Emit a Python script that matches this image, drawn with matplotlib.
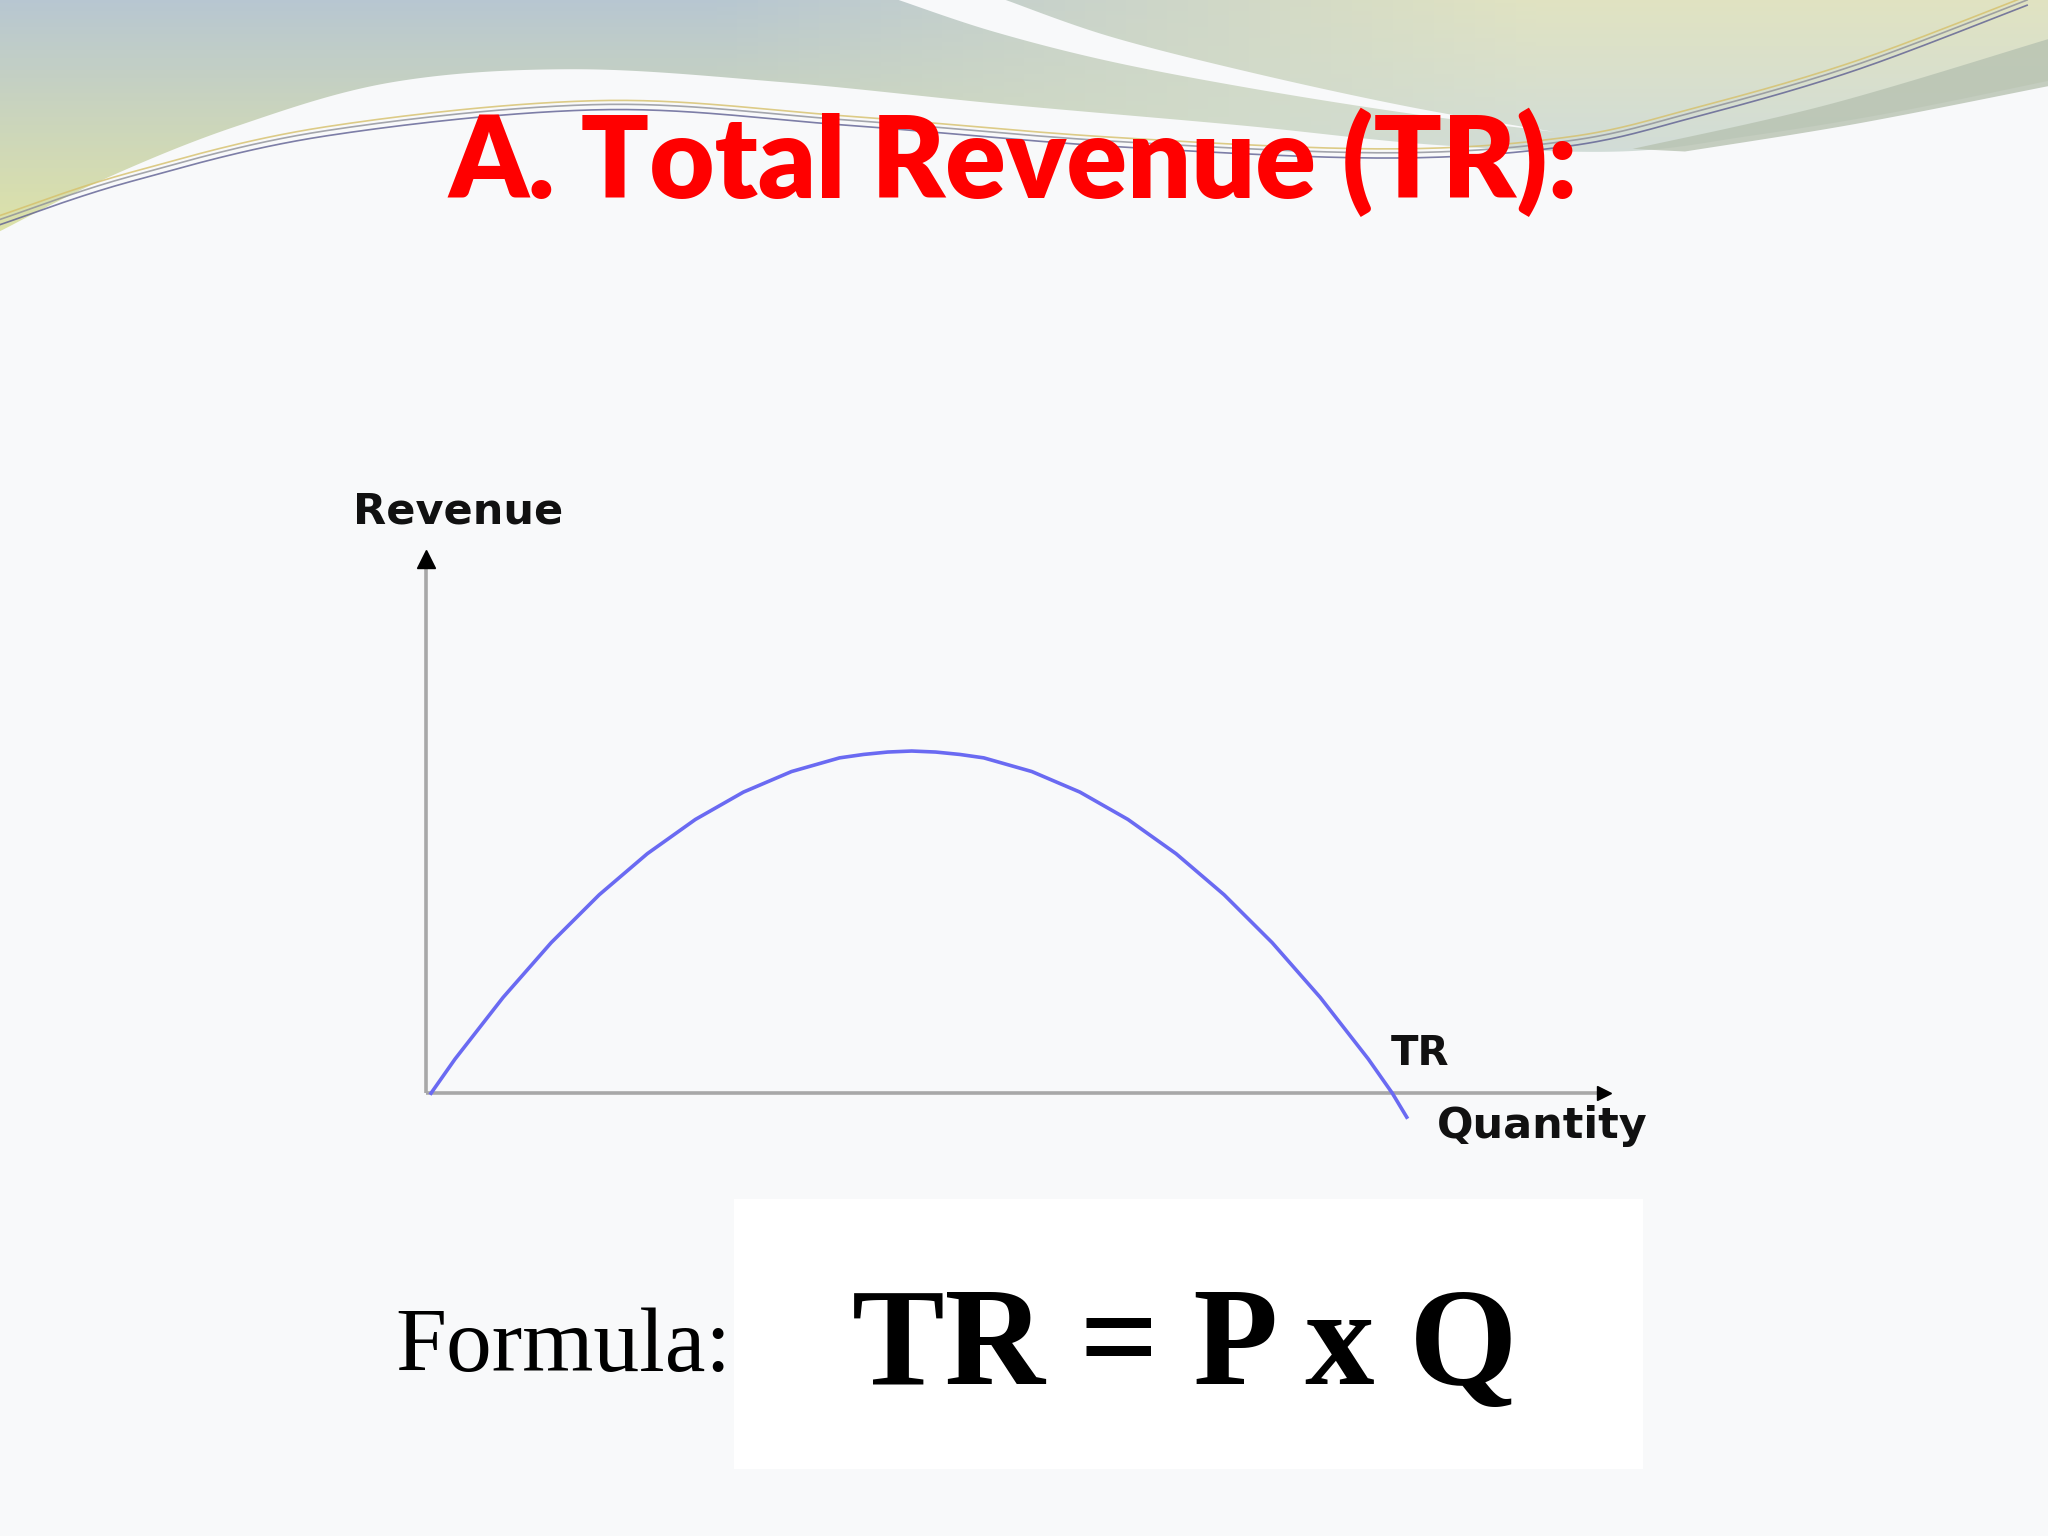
import numpy as np
import matplotlib
matplotlib.use("Agg")
import matplotlib.pyplot as plt
from matplotlib.patches import Polygon, Rectangle

# Total revenue curve (quantity units, revenue units)
quantity = [0, 0.5, 1, 1.5, 2, 2.5, 3, 3.5, 4, 4.5, 5, 5.5, 6, 6.5, 7, 7.5, 8, 8.5, 9, 9.5,
            10, 10.5, 11, 11.5, 12, 12.5, 13, 13.5, 14, 14.5, 15, 15.5, 16, 16.5, 17, 17.5,
            18, 18.5, 19, 19.5, 20, 20.3]
revenue = [0, 10, 19, 28, 36, 44, 51, 58, 64, 70, 75, 80, 84, 88, 91, 94, 96, 98, 99, 99.7,
           100, 99.7, 99, 98, 96, 94, 91, 88, 84, 80, 75, 70, 64, 58, 51, 44,
           36, 28, 19, 10, 0, -7]

title_text = "A. Total Revenue (TR):"
y_label = "Revenue"
x_label = "Quantity"
curve_label = "TR"
formula_label = "Formula:"
formula_text = "TR = P x Q"


def smooth(pts, n=30):
    # Catmull-Rom through the given outline points (decoration only)
    pts = np.asarray(pts, float)
    p = np.vstack([pts[0], pts, pts[-1]])
    out = []
    t = np.linspace(0, 1, n, endpoint=False)[:, None]
    for i in range(1, len(p) - 2):
        p0, p1, p2, p3 = p[i - 1], p[i], p[i + 1], p[i + 2]
        out.append(0.5 * ((2 * p1) + (-p0 + p2) * t + (2 * p0 - 5 * p1 + 4 * p2 - p3) * t ** 2
                          + (-p0 + 3 * p1 - 3 * p2 + p3) * t ** 3))
    out.append(pts[-1:])
    return np.vstack(out)


fig = plt.figure(figsize=(20.48, 15.36), dpi=100)
fig.patch.set_facecolor("#f8f9fa")

# background layer in slide pixel units
bg = fig.add_axes([0, 0, 1, 1])
bg.set_xlim(0, 1568)
bg.set_ylim(1176, 0)
bg.axis("off")

# coloured header mass with a gradient
lower = smooth([(1568, 62), (1450, 86), (1340, 104), (1240, 116), (1100, 111), (950, 96),
                (770, 80), (600, 63), (440, 53), (300, 63), (180, 97), (80, 137), (0, 177)])
outline = np.vstack([[(0, 0), (1568, 0)], lower])
grad = np.zeros((60, 100, 3))
yy = np.linspace(0, 1, 60)[:, None]
xx = np.linspace(0, 1, 100)[None, :]
top_l = np.array([0.72, 0.78, 0.82])
bot_l = np.array([0.87, 0.89, 0.66])
top_r = np.array([0.88, 0.89, 0.76])
bot_r = np.array([0.79, 0.85, 0.89])
for c in range(3):
    left = top_l[c] + (bot_l[c] - top_l[c]) * yy
    right = top_r[c] + (bot_r[c] - top_r[c]) * yy
    w = np.clip((xx - 0.35) / 0.4, 0, 1)
    grad[:, :, c] = left * (1 - w) + right * w
im = bg.imshow(grad, extent=(0, 1568, 180, 0), aspect="auto", zorder=1)
clip = Polygon(outline, closed=True, transform=bg.transData)
im.set_clip_path(clip)

# white swoosh cutting through the header
sw_lower = smooth([(688, 0), (760, 24), (850, 47), (960, 68), (1080, 87), (1190, 101)])
sw_upper = smooth([(1190, 101), (1080, 82), (960, 56), (850, 28), (770, 0)])
bg.add_patch(Polygon(np.vstack([sw_lower, sw_upper]), closed=True, facecolor="#f8f9fa",
                     edgecolor="none", zorder=2))

# darker band at the right
band = np.vstack([smooth([(1250, 114), (1400, 80), (1568, 30)]),
                  smooth([(1568, 66), (1420, 95), (1290, 116)])])
bg.add_patch(Polygon(band, closed=True, facecolor="#b7c2b1", edgecolor="none", alpha=0.8, zorder=2))

# thin decorative strokes
stroke = smooth([(0, 168), (100, 135), (250, 100), (460, 80), (650, 92), (850, 108),
                 (1060, 117), (1200, 108), (1300, 85), (1420, 50), (1552, 0)])
for dy, col in [(0, "#8e9099"), (4, "#5e5f92"), (-3, "#d6c06a")]:
    bg.plot(stroke[:, 0], stroke[:, 1] + dy, color=col, lw=1.2, alpha=0.8, zorder=3)

# title
bg.text(776, 152, title_text, color="#ff0000", fontsize=81, fontweight="heavy",
        family="Lato", ha="center", va="baseline", zorder=5)

# chart axes: quantity 0..20 maps to the drawn origin .. zero-crossing
ax = fig.add_axes([330 / 1568, 1 - 837 / 1176, 736 / 1568, 262 / 1176])
ax.set_xlim(0, 20)
ax.set_ylim(0, 100)
ax.axis("off")
ax.patch.set_alpha(0)

axis_col = "#a8a8a8"
ax.plot([-0.1, -0.1], [0, 155], color=axis_col, lw=2.6, clip_on=False, solid_capstyle="butt")
ax.plot([-0.1], [156], marker="^", color="black", markersize=13, clip_on=False)
ax.plot([-0.1, 24.3], [0, 0], color=axis_col, lw=2.6, clip_on=False, solid_capstyle="butt")
ax.plot([24.4], [0], marker=">", color="black", markersize=10, clip_on=False)

ax.plot(quantity, revenue, color="#6a6af2", lw=2.6, clip_on=False, zorder=4)

bg.text(270, 392, y_label, fontsize=31, family="DejaVu Sans", fontweight="bold",
        ha="left", va="center", color="#111111", zorder=5)
bg.text(1065, 807, curve_label, fontsize=29, family="DejaVu Sans", fontweight="bold",
        ha="left", va="center", color="#111111", zorder=5)
bg.text(1100, 862, x_label, fontsize=31, family="DejaVu Sans", fontweight="bold",
        ha="left", va="center", color="#111111", zorder=5)

# formula box
bg.add_patch(Rectangle((562, 918), 696, 207, facecolor="white", edgecolor="none", zorder=3))
bg.text(303, 1050, formula_label, fontsize=66, family="Liberation Serif", ha="left",
        va="baseline", color="black", zorder=5)
bg.text(907, 1060, formula_text, fontsize=100, family="Liberation Serif", fontweight="bold",
        ha="center", va="baseline", color="black", zorder=5)

fig.savefig("out.png", dpi=100, facecolor=fig.get_facecolor())
